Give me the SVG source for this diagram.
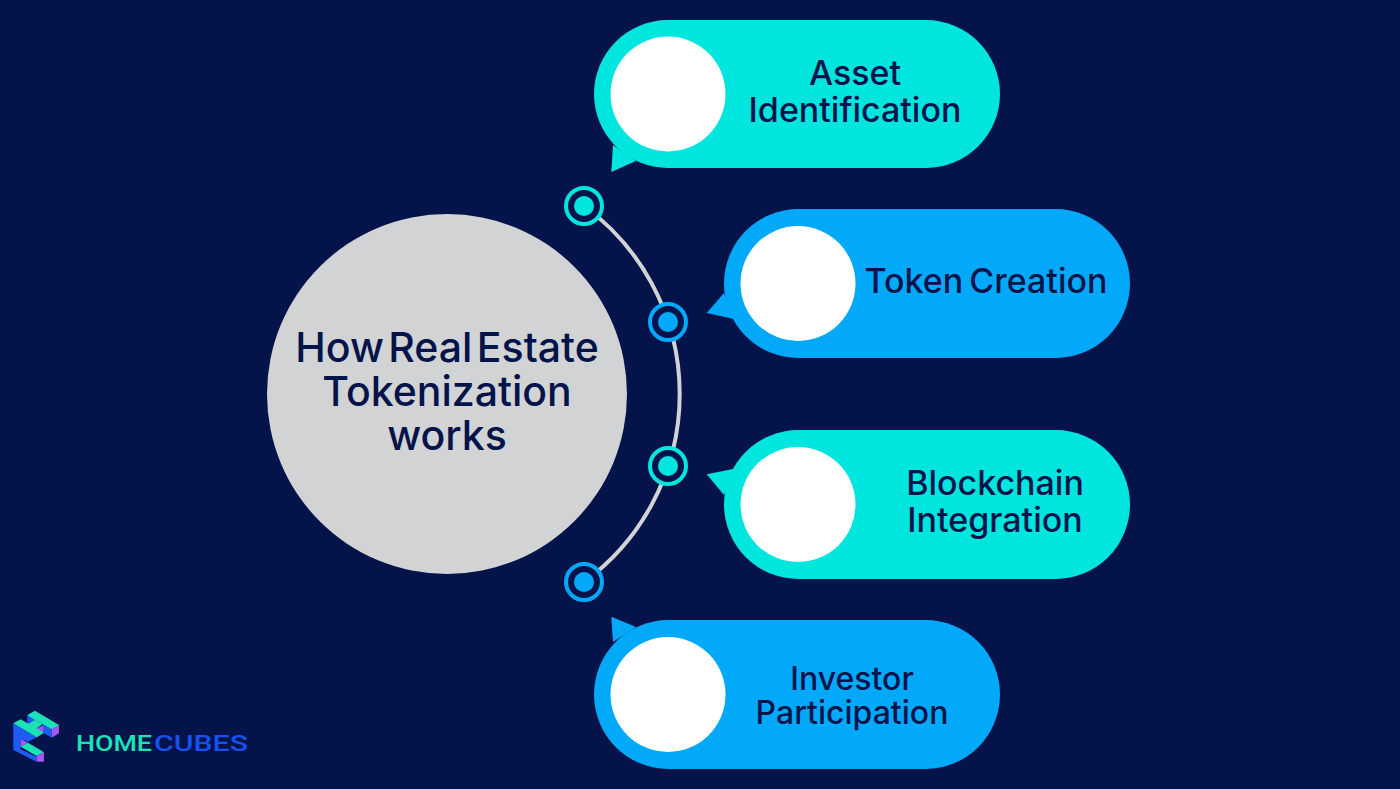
<svg xmlns="http://www.w3.org/2000/svg" width="1400" height="789" viewBox="0 0 1400 789">
<style>
.t{font-family:"Inter","Liberation Sans",sans-serif;font-weight:500;fill:#04134a;text-anchor:middle}
.l{font-size:34px}
.p{font-size:32px}
.c{font-size:41px;}
.w{fill:#fff}
.a{fill:#00e5de}
.b{fill:#03a9f9}
.ra{fill:#04134a;stroke:#00e5de;stroke-width:4}
.rb{fill:#04134a;stroke:#03a9f9;stroke-width:4}
.lg{font-family:"Roboto","Liberation Sans",sans-serif;font-weight:500;font-size:22.500px}
.lt{fill:#1de2b8}.lb{fill:#1f5cf5}.lp{fill:#a855f7}
</style>
<rect width="1400" height="789" fill="#04134a"/>
<g id="connectors">
<path d="M584 206A232.500 232.500 0 0 1 584 582" fill="none" stroke="#d1d3d4" stroke-width="4"/>
</g>
<g id="center"><circle cx="447" cy="394" r="180" fill="#d1d3d4"/>
<text class="t c" x="447" y="362" word-spacing="-6.500">How Real Estate</text><text class="t c" x="447" y="406">Tokenization</text><text class="t c" x="447" y="450">works</text></g>
<g id="dot1"><circle cx="584" cy="206" r="18" class="ra"/><circle cx="584" cy="206" r="10" class="a"/></g>
<g id="dot2"><circle cx="668" cy="322" r="18" class="rb"/><circle cx="668" cy="322" r="10" class="b"/></g>
<g id="dot3"><circle cx="668" cy="466" r="18" class="ra"/><circle cx="668" cy="466" r="10" class="a"/></g>
<g id="dot4"><circle cx="584" cy="582" r="18" class="rb"/><circle cx="584" cy="582" r="10" class="b"/></g>
<g id="node1"><rect x="594" y="20" width="406" height="148" rx="74" class="a"/><path d="M613 145L611.300 172L636 161Z" class="a"/><circle cx="668" cy="94" r="57.500" class="w"/>
<text class="t l" x="855" y="85">Asset</text><text class="t l" x="855" y="122">Identification</text></g>
<g id="node2"><rect x="724" y="209" width="406" height="149" rx="74.500" class="b"/><path d="M724 293L706.700 313L734 319Z" class="b"/><circle cx="798" cy="283.500" r="57.500" class="w"/>
<text class="t l" x="986" y="293" word-spacing="-3">Token Creation</text></g>
<g id="node3"><rect x="724" y="430" width="406" height="149" rx="74.500" class="a"/><path d="M706.700 474.300L733 469L724 495Z" class="a"/><circle cx="798" cy="504.500" r="57.500" class="w"/>
<text class="t l" x="995" y="495">Blockchain</text><text class="t l" x="995" y="532">Integration</text></g>
<g id="node4"><rect x="594" y="620" width="406" height="149" rx="74.500" class="b"/><path d="M611.300 616.700L636 627L613 642Z" class="b"/><circle cx="668" cy="694.500" r="57.500" class="w"/>
<text class="t p" x="852" y="690">Investor</text><text class="t p" x="852" y="724">Participation</text></g>
<g id="logo">
<g transform="translate(0 700) scale(.3333)">
<path class="lb" d="M82 45L105 58V72L82 82Z"/>
<path class="lp" d="M155 88L177 75V100L155 113Z"/>
<path class="lb" d="M128 72L155 88V113L130 98Z"/>
<path class="lb" d="M40 70L110 112L85 125L62 116V148L110 170V185L40 150Z"/>
<path class="lp" d="M62 116L84 128L62 140Z"/>
<path class="lp" d="M108 86L130 76V98L110 112Z"/>
<path class="lt" d="M82 45L105 32L177 75L155 88L128 72L105 60Z"/>
<path class="lt" d="M105 60L128 72L108 86L85 72Z"/>
<path class="lt" d="M40 70L62 58L132 98L110 112Z"/>
<path class="lt" d="M62 140L84 128L132 157L110 168Z"/>
<path class="lp" d="M110 168L132 157V185L110 185Z"/>
</g>
<text class="lg lt" x="76" y="751" textLength="76" lengthAdjust="spacingAndGlyphs">HOME</text><text class="lg lb" x="154" y="751" textLength="94" lengthAdjust="spacingAndGlyphs" style="fill:#1650f0">CUBES</text>
</g>
</svg>
